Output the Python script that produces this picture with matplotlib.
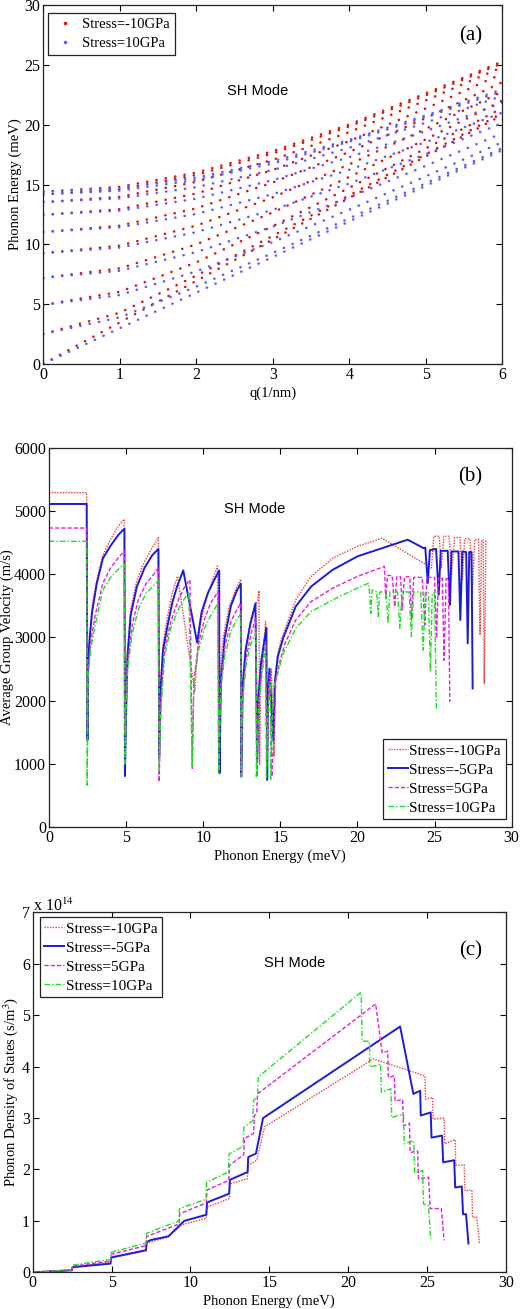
import matplotlib
matplotlib.use("Agg")
import matplotlib.pyplot as plt
from matplotlib.lines import Line2D

plt.rcParams['font.family'] = 'serif'
plt.rcParams['font.serif'] = ['Liberation Serif', 'DejaVu Serif']
plt.rcParams['mathtext.fontset'] = 'stix'

# ---- panel (a): SH dispersion, q (1/nm) vs phonon energy (meV)
q_vals = [0, 1, 2, 3, 4, 5, 6]
e_neg10 = [
    [0.0, 3.47, 6.94, 10.41, 13.88, 17.35, 20.82],
    [2.5, 4.28, 7.38, 10.71, 14.10, 17.53, 20.97],
    [4.93, 6.03, 8.49, 11.52, 14.73, 18.03, 21.40],
    [7.2, 7.99, 9.99, 12.67, 15.64, 18.78, 22.03],
    [9.26, 9.89, 11.56, 13.93, 16.69, 19.66, 22.78],
    [11.03, 11.56, 13.01, 15.17, 17.73, 20.56, 23.56],
    [12.47, 12.94, 14.25, 16.22, 18.64, 21.37, 24.28],
    [13.53, 13.97, 15.23, 17.07, 19.39, 22.04, 24.83],
    [14.18, 14.60, 15.80, 17.60, 19.86, 22.47, 25.16],
    [14.4, 14.81, 16.00, 17.79, 20.02, 22.63, 25.30],
]
e_pos10 = [
    [0.0, 2.98, 5.96, 8.94, 11.92, 14.90, 17.88],
    [2.5, 3.89, 6.46, 9.28, 12.18, 15.11, 18.05],
    [4.93, 5.76, 7.74, 10.19, 12.90, 15.69, 18.55],
    [7.2, 7.79, 9.35, 11.48, 13.93, 16.57, 19.30],
    [9.26, 9.73, 11.02, 12.89, 15.09, 17.54, 20.15],
    [11.03, 11.43, 12.54, 14.20, 16.24, 18.55, 21.02],
    [12.47, 12.82, 13.82, 15.37, 17.29, 19.47, 21.84],
    [13.53, 13.85, 14.78, 16.22, 18.08, 20.18, 22.43],
    [14.18, 14.49, 15.38, 16.76, 18.59, 20.64, 22.82],
    [14.4, 14.70, 15.58, 16.95, 18.74, 20.78, 22.97],
]

# ---- panel (b): average group velocity (m/s) vs energy (meV)
vb_e_m10 = [0, 2.45, 2.47, 2.55, 2.65, 2.8, 3.1, 3.5, 4.0, 4.5, 4.88, 4.93, 5.0, 5.1, 5.3, 5.7, 6.2, 6.7,
            7.1, 7.15, 7.25, 7.4, 7.7, 8.0, 8.34, 9.46, 9.55, 9.8, 10.2, 10.6, 10.93, 11.0, 11.1, 11.3,
            11.7, 12.1, 12.44, 12.52, 12.62, 12.8, 13.1, 13.4, 13.55, 13.62, 13.66, 13.72, 13.85, 14.05,
            14.12, 14.22, 14.35, 14.42, 14.6, 14.68, 14.8, 15.05, 16.0, 17.0, 18.4, 20.0, 21.6, 24.8,
            24.95, 25.3, 25.45, 25.6, 25.95, 26.1, 26.3, 26.65, 26.8, 26.95, 27.3, 27.45, 27.6, 27.85,
            27.95, 28.05, 28.15, 28.22, 28.33]
vb_v_m10 = [5290, 5290, 1400, 2600, 3000, 3500, 3900, 4300, 4550, 4760, 4870, 2200, 2500, 2800, 3450,
            3900, 4200, 4420, 4580, 1200, 2300, 2900, 3350, 3700, 3970, 2140, 2500, 3200, 3600, 3900,
            4130, 1100, 2400, 3000, 3500, 3750, 3920, 1100, 2300, 2900, 3300, 3500, 3600, 3740, 1000,
            2200, 2700, 3250, 1500, 2000, 2300, 2500, 1120, 2300, 2700, 2960, 3595, 3965, 4255, 4440,
            4570, 4100, 4600, 4600, 4100, 4600, 4600, 4000, 4580, 4580, 3900, 4560, 4560, 3700, 4550,
            4550, 3040, 4540, 4540, 2270, 4540]
vb_e_m5 = [0, 2.45, 2.5, 2.55, 2.65, 2.8, 3.1, 3.5, 4.0, 4.5, 4.9, 4.93, 5.0, 5.1, 5.3, 5.7, 6.2, 6.7,
           7.1, 7.15, 7.25, 7.4, 7.7, 8.0, 8.3, 8.71, 9.61, 9.9, 10.3, 10.7, 11.04, 11.06, 11.15, 11.4,
           11.8, 12.2, 12.44, 12.47, 12.55, 12.75, 13.05, 13.39, 13.5, 13.6, 13.75, 14.0, 14.1, 14.15,
           14.2, 14.3, 14.55, 14.65, 14.84, 15.2, 16.0, 17.0, 18.4, 20.0, 23.26, 24.3, 24.4, 24.56,
           24.7, 25.1, 25.27, 25.4, 25.85, 26.0, 26.1, 26.55, 26.67, 26.8, 27.05, 27.15, 27.25, 27.4,
           27.47]
vb_v_m5 = [5110, 5110, 1380, 2600, 3000, 3400, 3850, 4250, 4450, 4620, 4720, 810, 1750, 2700, 3350,
           3800, 4100, 4300, 4400, 1100, 2200, 2800, 3200, 3550, 3800, 4060, 2920, 3400, 3700, 3900,
           4060, 855, 2300, 3000, 3500, 3750, 3850, 800, 2200, 2800, 3200, 3540, 1060, 2100, 2600,
           3000, 3150, 750, 2000, 2510, 1370, 2300, 2700, 3000, 3490, 3806, 4070, 4282, 4546, 4410,
           4420, 3860, 4380, 4400, 3675, 4370, 4370, 3515, 4360, 4360, 3277, 4360, 4350, 2907, 4350,
           4350, 2194]
vb_e_p5 = [0, 2.45, 2.5, 2.55, 2.7, 3.0, 3.5, 4.0, 4.5, 4.9, 4.93, 5.0, 5.1, 5.4, 5.8, 6.3, 6.8, 7.1,
           7.15, 7.25, 7.5, 7.9, 8.4, 8.8, 9.14, 9.3, 9.4, 9.7, 10.1, 10.5, 10.97, 11.03, 11.15, 11.4,
           11.8, 12.2, 12.44, 12.47, 12.55, 12.8, 13.1, 13.4, 13.5, 13.6, 13.8, 14.05, 14.15, 14.25,
           14.35, 14.45, 14.6, 14.7, 14.95, 15.3, 16.0, 17.0, 18.4, 20.0, 21.75, 21.84, 21.95, 22.25,
           22.42, 22.55, 22.8, 22.9, 23.05, 23.4, 23.5, 23.65, 24.2, 24.37, 24.5, 25.0, 25.13, 25.25,
           25.5, 25.62, 25.75, 25.9, 25.99]
vb_v_p5 = [4730, 4730, 1500, 2500, 2900, 3350, 3860, 4100, 4260, 4370, 1500, 2000, 2600, 3200, 3600,
           3850, 4000, 4100, 720, 2000, 2800, 3250, 3600, 3800, 3910, 930, 2330, 2900, 3300, 3550,
           3725, 1500, 2300, 2850, 3250, 3450, 3540, 780, 2100, 2700, 3050, 3300, 800, 2000, 2500,
           2900, 1000, 2200, 2400, 800, 1500, 2300, 2600, 2900, 3277, 3568, 3780, 3965, 4123, 3620,
           3980, 3980, 3490, 3960, 3960, 3435, 3960, 3960, 3280, 3950, 3950, 3200, 3950, 3950, 2990,
           3940, 3940, 2640, 3930, 3930, 1980]
vb_e_p10 = [0, 2.45, 2.48, 2.55, 2.7, 3.0, 3.5, 4.0, 4.5, 4.9, 4.93, 5.0, 5.1, 5.4, 5.8, 6.3, 6.8, 7.1,
            7.15, 7.25, 7.5, 7.9, 8.4, 8.8, 9.07, 9.29, 9.4, 9.7, 10.1, 10.5, 10.93, 11.02, 11.15, 11.4,
            11.8, 12.2, 12.44, 12.47, 12.55, 12.8, 13.1, 13.43, 13.45, 13.6, 13.8, 14.05, 14.1, 14.2,
            14.35, 14.38, 14.55, 14.8, 15.2, 16.0, 17.0, 18.4, 20.0, 20.74, 20.87, 20.95, 21.25, 21.35,
            21.45, 21.85, 21.99, 22.1, 22.6, 22.75, 22.9, 23.35, 23.5, 23.65, 24.1, 24.26, 24.4, 24.6,
            24.73, 24.85, 25.0, 25.12]
vb_v_p10 = [4520, 4520, 665, 2400, 2800, 3200, 3750, 3950, 4080, 4160, 1000, 1800, 2500, 3050, 3450,
            3700, 3820, 3900, 900, 1800, 2700, 3150, 3450, 3620, 3700, 950, 2300, 2800, 3150, 3350,
            3530, 860, 2200, 2700, 3100, 3300, 3370, 790, 2000, 2600, 2900, 3080, 800, 1900, 2400,
            2870, 780, 1800, 2300, 740, 2200, 2400, 2750, 3145, 3410, 3595, 3780, 3860, 3380, 3750,
            3720, 3330, 3720, 3720, 3225, 3720, 3720, 3145, 3720, 3720, 3015, 3720, 3720, 2800, 3710,
            3710, 2460, 3700, 3700, 1850]

# ---- panel (c): phonon DOS (x1e14 s/m^3) vs energy (meV)
dc_e_m10 = [0, 2.48, 2.52, 4.93, 4.97, 7.18, 7.22, 8.5, 9.3, 9.5, 11.0, 11.05, 12.45, 12.5, 13.6, 13.65,
            14.2, 14.7, 21.6, 24.87, 24.9, 25.35, 25.38, 26.08, 26.12, 26.78, 26.82, 27.35, 27.4, 27.84,
            27.88, 28.15, 28.32]
dc_d_m10 = [0, 0.04, 0.10, 0.20, 0.28, 0.42, 0.57, 0.68, 0.88, 0.93, 1.05, 1.27, 1.43, 1.72, 1.82, 2.08,
            2.18, 2.83, 4.15, 3.82, 3.37, 3.40, 2.98, 3.00, 2.50, 2.58, 2.08, 2.09, 1.59, 1.60, 1.07,
            1.07, 0.56]
dc_e_m5 = [0, 2.48, 2.52, 4.93, 4.97, 7.18, 7.22, 7.5, 8.6, 9.6, 11.0, 11.05, 12.45, 12.5, 13.62, 13.66,
           14.15, 14.6, 23.29, 24.13, 24.56, 24.6, 25.23, 25.28, 25.95, 26.02, 26.72, 26.78, 27.2, 27.28,
           27.47, 27.62]
dc_d_m5 = [0, 0.04, 0.10, 0.17, 0.29, 0.43, 0.59, 0.63, 0.70, 1.00, 1.12, 1.36, 1.53, 1.80, 1.95, 2.24,
           2.31, 3.00, 4.78, 3.47, 3.53, 3.05, 3.11, 2.62, 2.66, 2.14, 2.18, 1.65, 1.67, 1.13, 1.13, 0.56]
dc_e_p5 = [0, 2.48, 2.52, 4.93, 4.97, 7.18, 7.22, 9.28, 9.32, 11.0, 11.05, 12.43, 12.47, 13.38, 13.42,
           14.0, 14.05, 14.2, 14.25, 21.74, 22.15, 22.5, 22.54, 22.92, 22.97, 23.45, 23.5, 23.88, 23.92,
           24.4, 24.45, 25.1, 25.19, 25.9, 26.08]
dc_d_p5 = [0, 0.05, 0.12, 0.22, 0.35, 0.52, 0.70, 0.94, 1.14, 1.35, 1.60, 1.79, 2.08, 2.29, 2.60, 2.70,
           3.05, 3.10, 3.47, 5.22, 4.27, 4.30, 3.79, 3.82, 3.33, 3.36, 2.85, 2.90, 2.33, 2.36, 1.82, 1.85,
           1.24, 1.24, 0.62]
dc_e_p10 = [0, 2.48, 2.52, 4.93, 4.97, 7.18, 7.22, 9.26, 9.3, 10.98, 11.02, 12.4, 12.45, 13.33, 13.38,
            13.95, 14.0, 14.25, 14.3, 20.82, 20.88, 21.34, 21.38, 22.05, 22.1, 22.7, 22.76, 23.5, 23.55,
            24.15, 24.22, 24.72, 24.77, 25.08, 25.23]
dc_d_p10 = [0, 0.05, 0.14, 0.25, 0.39, 0.57, 0.76, 1.0, 1.24, 1.42, 1.75, 1.95, 2.30, 2.45, 2.82, 2.95,
            3.35, 3.40, 3.80, 5.45, 4.50, 4.49, 3.99, 4.05, 3.50, 3.57, 3.01, 3.08, 2.50, 2.56, 1.93, 1.98,
            1.33, 1.30, 0.65]

labels4 = ['Stress=-10GPa', 'Stress=-5GPa', 'Stress=5GPa', 'Stress=10GPa']
styles4 = [
    dict(color='#f03c3c', linestyle=(0, (1, 1)), lw=1.0),
    dict(color='#1c1cd8', linestyle='-', lw=1.4),
    dict(color='#e41ee4', linestyle=(0, (3, 1.5)), lw=1.0),
    dict(color='#1ee01e', linestyle=(0, (4, 1.5, 1, 1.5)), lw=1.0),
]


def style_axes(ax):
    ax.tick_params(direction='in', top=True, right=True, length=4, labelsize=11.5, pad=2)
    for s in ax.spines.values():
        s.set_linewidth(0.9)
        s.set_color('#222222')


fig = plt.figure(figsize=(5.2, 13.09), dpi=100)

# (a)
ax1 = fig.add_axes([0.083, 0.722, 0.883, 0.274])
for mode in e_neg10:
    ax1.plot(q_vals, mode, color='#e01010', lw=1.8, linestyle=(0, (0.1, 3.7)), dash_capstyle='round')
for mode in e_pos10:
    ax1.plot(q_vals, mode, color='#5a5aff', lw=1.8, linestyle=(0, (0.1, 3.7)), dash_capstyle='round')
ax1.set_xlim(0, 6)
ax1.set_ylim(0, 30)
ax1.set_xticks(range(0, 7))
ax1.set_yticks(range(0, 31, 5))
style_axes(ax1)
ax1.set_xlabel('q(1/nm)', fontsize=10.5)
ax1.set_ylabel('Phonon Energy (meV)', fontsize=10.5)
ax1.xaxis.set_label_coords(0.5, -0.062)
ax1.yaxis.set_label_coords(-0.046, 0.5)
h_a = [Line2D([], [], ls='none', marker='.', markersize=3, color='#e01010'),
       Line2D([], [], ls='none', marker='.', markersize=3, color='#5a5aff')]
leg = ax1.legend(h_a, ['Stress=-10GPa', 'Stress=10GPa'], loc='upper left', bbox_to_anchor=(0.011, 0.978),
                 borderaxespad=0, fontsize=10.5, fancybox=False, edgecolor='#222222', framealpha=1,
                 handlelength=1.6, handletextpad=0.4, labelspacing=0.35, borderpad=0.35)
leg.get_frame().set_linewidth(0.9)
ax1.text(0.466, 0.760, 'SH Mode', transform=ax1.transAxes, ha='center', va='center',
         fontsize=10.5, family='Liberation Sans')
ax1.text(0.932, 0.916, '(a)', transform=ax1.transAxes, ha='center', va='center', fontsize=15)

# (b)
ax2 = fig.add_axes([0.094, 0.368, 0.890, 0.290])
b_series = [(vb_e_m10, vb_v_m10), (vb_e_m5, vb_v_m5), (vb_e_p5, vb_v_p5), (vb_e_p10, vb_v_p10)]
for (e, v), st, lab in zip(b_series, styles4, labels4):
    ax2.plot(e, v, label=lab, **st)
ax2.set_xlim(0, 30)
ax2.set_ylim(0, 6000)
ax2.set_xticks(range(0, 31, 5))
ax2.set_yticks(range(0, 6001, 1000))
style_axes(ax2)
ax2.set_xlabel('Phonon Energy (meV)', fontsize=10.5)
ax2.set_ylabel('Average Group Velocity (m/s)', fontsize=10.5)
ax2.xaxis.set_label_coords(0.5, -0.058)
ax2.yaxis.set_label_coords(-0.075, 0.5)
leg = ax2.legend(loc='lower right', bbox_to_anchor=(0.987, 0.021), borderaxespad=0, fontsize=11,
                 fancybox=False, edgecolor='#222222', framealpha=1, handlelength=1.3,
                 handletextpad=0.1, labelspacing=0.35, borderpad=0.3)
leg.get_frame().set_linewidth(0.9)
ax2.text(0.445, 0.839, 'SH Mode', transform=ax2.transAxes, ha='center', va='center',
         fontsize=10.5, family='Liberation Sans')
ax2.text(0.911, 0.923, '(b)', transform=ax2.transAxes, ha='center', va='center', fontsize=15)

# (c)
ax3 = fig.add_axes([0.063, 0.028, 0.910, 0.275])
c_series = [(dc_e_m10, dc_d_m10), (dc_e_m5, dc_d_m5), (dc_e_p5, dc_d_p5), (dc_e_p10, dc_d_p10)]
for (e, d), st, lab in zip(c_series, styles4, labels4):
    ax3.plot(e, d, label=lab, **st)
ax3.set_xlim(0, 30)
ax3.set_ylim(0, 7)
ax3.set_xticks(range(0, 31, 5))
ax3.set_yticks(range(0, 8))
style_axes(ax3)
ax3.set_xlabel('Phonon Energy (meV)', fontsize=10.5)
ax3.set_ylabel('Phonon Density of States (s/m$^3$)', fontsize=10.5)
ax3.xaxis.set_label_coords(0.5, -0.062)
ax3.yaxis.set_label_coords(-0.028, 0.5)
ax3.text(0.0, 1.016, r'x 10$^{14}$', transform=ax3.transAxes, ha='left', va='center', fontsize=11.5)
leg = ax3.legend(loc='upper left', bbox_to_anchor=(0.015, 0.986), borderaxespad=0, fontsize=11,
                 fancybox=False, edgecolor='#222222', framealpha=1, handlelength=1.3,
                 handletextpad=0.1, labelspacing=0.35, borderpad=0.3)
leg.get_frame().set_linewidth(0.9)
ax3.text(0.554, 0.858, 'SH Mode', transform=ax3.transAxes, ha='center', va='center',
         fontsize=10.5, family='Liberation Sans')
ax3.text(0.926, 0.894, '(c)', transform=ax3.transAxes, ha='center', va='center', fontsize=15)

fig.savefig('out.png', dpi=100)
